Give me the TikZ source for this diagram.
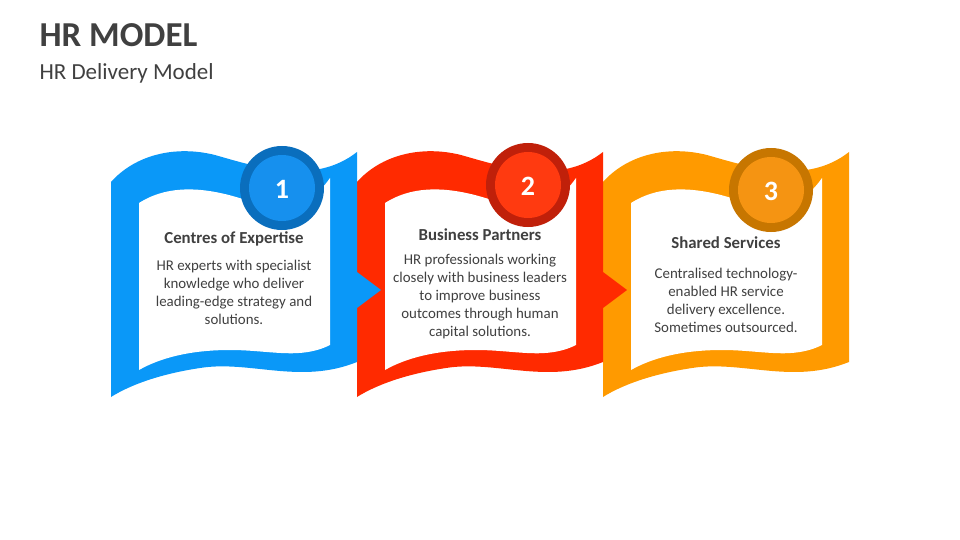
\documentclass[tikz,border=0pt]{standalone}
\usepackage{fontspec}
\setmainfont{Carlito}
\begin{document}
\begin{tikzpicture}[x=1pt,y=-1pt,
  ttl/.style={font=\fontsize{16.8}{18}\selectfont\bfseries,text=black!75,anchor=center},
  body/.style={font=\fontsize{14.9}{17.8}\selectfont,text=black!75,align=center,anchor=north},
  num/.style={font=\fontsize{28}{30}\selectfont\bfseries,text=white}]
\useasboundingbox (0,0) rectangle (960,540);
\definecolor{cb}{HTML}{0A98F8}\definecolor{cbd}{HTML}{0A6EBD}\definecolor{cbi}{HTML}{1690EE}
\definecolor{cr}{HTML}{FF2A00}\definecolor{crd}{HTML}{C0200A}\definecolor{cri}{HTML}{FF3A10}
\definecolor{co}{HTML}{FF9A00}\definecolor{cod}{HTML}{C77600}\definecolor{coi}{HTML}{F59412}
\newcommand{\card}[6]{%
 \begin{scope}[xshift=#1]
 \fill[#2] (111,182) .. controls (135,155) and (175,145) .. (215,155) .. controls (260,168) and (315,185) .. (357,152)
   -- (357,272) -- (#6,290) -- (357,308) -- (357,362)
   .. controls (300,385) and (250,360) .. (200,368) .. controls (160,374) and (130,385) .. (111,397) -- cycle;
 \fill[white] (139,203) .. controls (175,180) and (220,190) .. (260,205) .. controls (290,215) and (315,200) .. (330,178)
   -- (330,345) .. controls (300,360) and (270,350) .. (230,350) .. controls (190,350) and (160,358) .. (139,370) -- cycle;
 \fill[#3] (#5) circle (42);
 \fill[#4] (#5) circle (33);
 \end{scope}}
\card{492}{co}{cod}{coi}{279,190}{357}
\card{246}{cr}{crd}{cri}{282,185}{381}
\card{0}{cb}{cbd}{cbi}{282,188}{381}
\node[num] (n1) at (282,189) {1};
\node[num] (n2) at (528,186) {2};
\node[num] (n3) at (771,191) {3};
\node[ttl] (t1) at (234,239) {Centres of Expertise};
\node[ttl] (t2) at (480,235) {Business Partners};
\node[ttl] (t3) at (726,243) {Shared Services};
\node[body] (b1) at (234,257) {HR experts with specialist\\knowledge who deliver\\leading-edge strategy and\\solutions.};
\node[body] (b2) at (480,251) {HR professionals working\\closely with business leaders\\to improve business\\outcomes through human\\capital solutions.};
\node[body] (b3) at (726,265) {Centralised technology-\\enabled HR service\\delivery excellence.\\Sometimes outsourced.};
\node[anchor=west,font=\fontsize{35}{38}\selectfont\bfseries,text=black!75] (h) at (36,35) {HR MODEL};
\node[anchor=west,font=\fontsize{23}{26}\selectfont,text=black!75] (s) at (36,73) {HR Delivery Model};
\end{tikzpicture}
\end{document}
